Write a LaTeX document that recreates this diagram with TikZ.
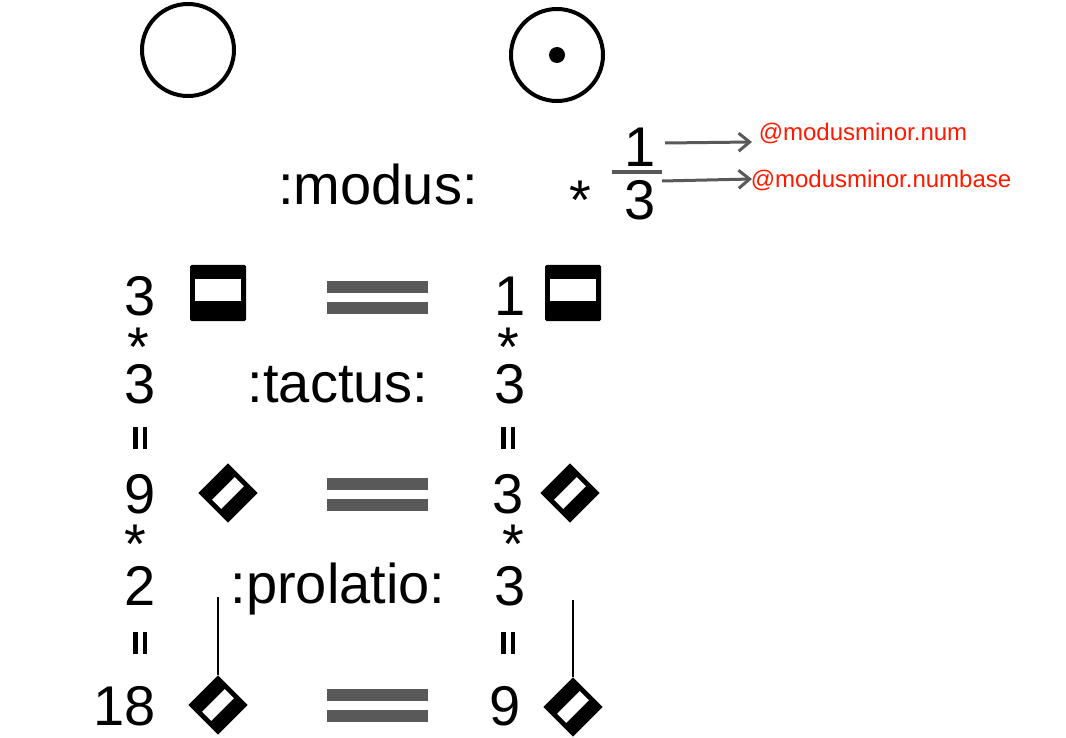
\documentclass[tikz,border=0pt]{standalone}
\usepackage{fontspec}
\usetikzlibrary{arrows.meta}
\setmainfont{Liberation Sans}
\begin{document}
\begin{tikzpicture}[x=1pt,y=-1pt,
  big/.style={font=\fontsize{56}{60}\selectfont,inner sep=0pt,anchor=base},
  ast/.style={font=\fontsize{56}{60}\selectfont,inner sep=0pt,anchor=center},
  lab/.style={font=\fontsize{24}{27}\selectfont,text=red!80!orange,inner sep=0pt,anchor=base},
  gbar/.style={fill=black!65},
  arr/.style={draw=black!65,line width=3pt,-{Straight Barb[length=11pt,width=18pt]}}]
\useasboundingbox (0,0) rectangle (1066,738);
% mensuration signs
\draw[line width=4pt] (188,50) circle (46);
\draw[line width=4pt] (557,55) circle (46);
\fill (557,55) circle (8);
% modus
\node[big] (modus) at (378,205) {:modus:};
\node[ast] (mast) at (580,200) {*};
\node[big] (num) at (640,167) {1};
\node[big] (den) at (640,220) {3};
\fill[black!65] (612,170.5) rectangle (662,174);
\node[lab] (lnum) at (863,141) {@modusminor.num};
\node[lab] (lden) at (881,188) {@modusminor.numbase};
\coordinate (n1) at (665,143);
\coordinate (d1) at (662,181);
\coordinate (n2) at (752,142);
\coordinate (d2) at (752,179);
\draw[arr] (n1) -- (n2);
\draw[arr] (d1) -- (d2);
% breves
\foreach \n/\x in {bA/190,bB/545}{
  \fill[rounded corners=1.5pt] (\x,265) rectangle ++(56,56);
  \fill[white] (\x+5,279) rectangle ++(46,22);
  \coordinate (\n) at (\x+28,293);
}
% semibreves
\foreach \n/\x/\y in {sA/228/493,sB/570/493,sC/218/705,sD/573/707}{
  \begin{scope}[shift={(\x,\y)},rotate=45]
    \fill (-21,-21) rectangle (21,21);
    \fill[white] (-16,-6.5) rectangle (16,6.5);
  \end{scope}
  \coordinate (\n) at (\x,\y-30);
}
\coordinate (stA) at (218,597);
\coordinate (stB) at (573,600);
\draw[line width=2pt] (sC) -- (stA);
\draw[line width=2pt] (sD) -- (stB);
% equals bars
\foreach \y in {281,478,689}{
  \fill[gbar] (327,\y) rectangle (428,\y+12);
  \fill[gbar] (327,\y+21) rectangle (428,\y+33);
}
% left column
\node[big] (l1) at (140,315) {3};
\node[ast] (la1) at (138,347) {*};
\node[big] (l2) at (140,403) {3};
\node[big] (l3) at (140,513) {9};
\node[ast] (la2) at (135,544) {*};
\node[big] (l4) at (140,605) {2};
\node[big] (l5) at (125,725) {18};
% right column
\node[big] (r1) at (510,315) {1};
\node[ast] (ra1) at (508,347) {*};
\node[big] (r2) at (510,403) {3};
\node[big] (r3) at (508,513) {3};
\node[ast] (ra2) at (513,544) {*};
\node[big] (r4) at (510,605) {3};
\node[big] (r5) at (505,725) {9};
% vertical equals
\foreach \x/\y in {140/438,508/438,140/643,508/643}{
  \fill (\x-7,\y-11) rectangle (\x-2.5,\y+11);
  \fill (\x+2.5,\y-11) rectangle (\x+7,\y+11);
}
\node[big] (tactus) at (338,402) {:tactus:};
\node[big] (prol) at (338,603) {:prolatio:};
\end{tikzpicture}
\end{document}
